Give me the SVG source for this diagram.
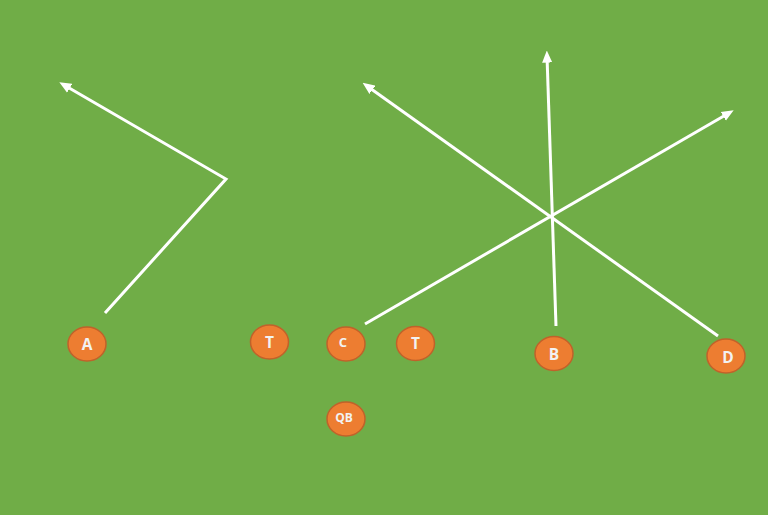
<svg xmlns="http://www.w3.org/2000/svg" width="768" height="515" viewBox="0 0 768 515">
<style>
.route{fill:none;stroke:#fff;stroke-width:3;stroke-linejoin:miter;marker-end:url(#ah)}
.p ellipse{fill:#ED7D31;stroke:#C0622A;stroke-width:1.5}
.p text{fill:#F2F2F2;font-family:"Open Sans","Liberation Sans",sans-serif;font-weight:bold;font-size:15.5px;text-anchor:middle;dominant-baseline:central}
</style>
<defs>
<marker id="ah" markerWidth="4" markerHeight="4" refX="2.2" refY="2" orient="auto" markerUnits="strokeWidth">
<path d="M0,0.3 L4,2 L0,3.7 Z" fill="#fff"/>
</marker>
</defs>
<rect width="768" height="515" fill="#70AD47"/>
<g id="connectors">
<polyline class="route" points="105,313 226,179 64,85"/>
<line class="route" x1="365" y1="324" x2="729" y2="113"/>
<line class="route" x1="556" y1="326" x2="547" y2="56"/>
<line class="route" x1="718" y1="336" x2="367" y2="86"/>
</g>
<g id="A" class="p"><ellipse cx="87" cy="344" rx="19" ry="17"/><text x="87" y="344">A</text></g>
<g id="T1" class="p"><ellipse cx="269.5" cy="342" rx="19" ry="17"/><text x="269.5" y="342">T</text></g>
<g id="C" class="p"><ellipse cx="346" cy="344" rx="19" ry="17"/><text x="343" y="342" style="font-size:13px">C</text></g>
<g id="T2" class="p"><ellipse cx="415.5" cy="343.5" rx="19" ry="17"/><text x="415.5" y="343">T</text></g>
<g id="QB" class="p"><ellipse cx="346" cy="419" rx="19" ry="17"/><text x="344" y="417" style="font-size:12px">QB</text></g>
<g id="B" class="p"><ellipse cx="554" cy="353.5" rx="19" ry="17"/><text x="554" y="354">B</text></g>
<g id="D" class="p"><ellipse cx="726" cy="356" rx="19" ry="17"/><text x="728" y="357">D</text></g>
</svg>
